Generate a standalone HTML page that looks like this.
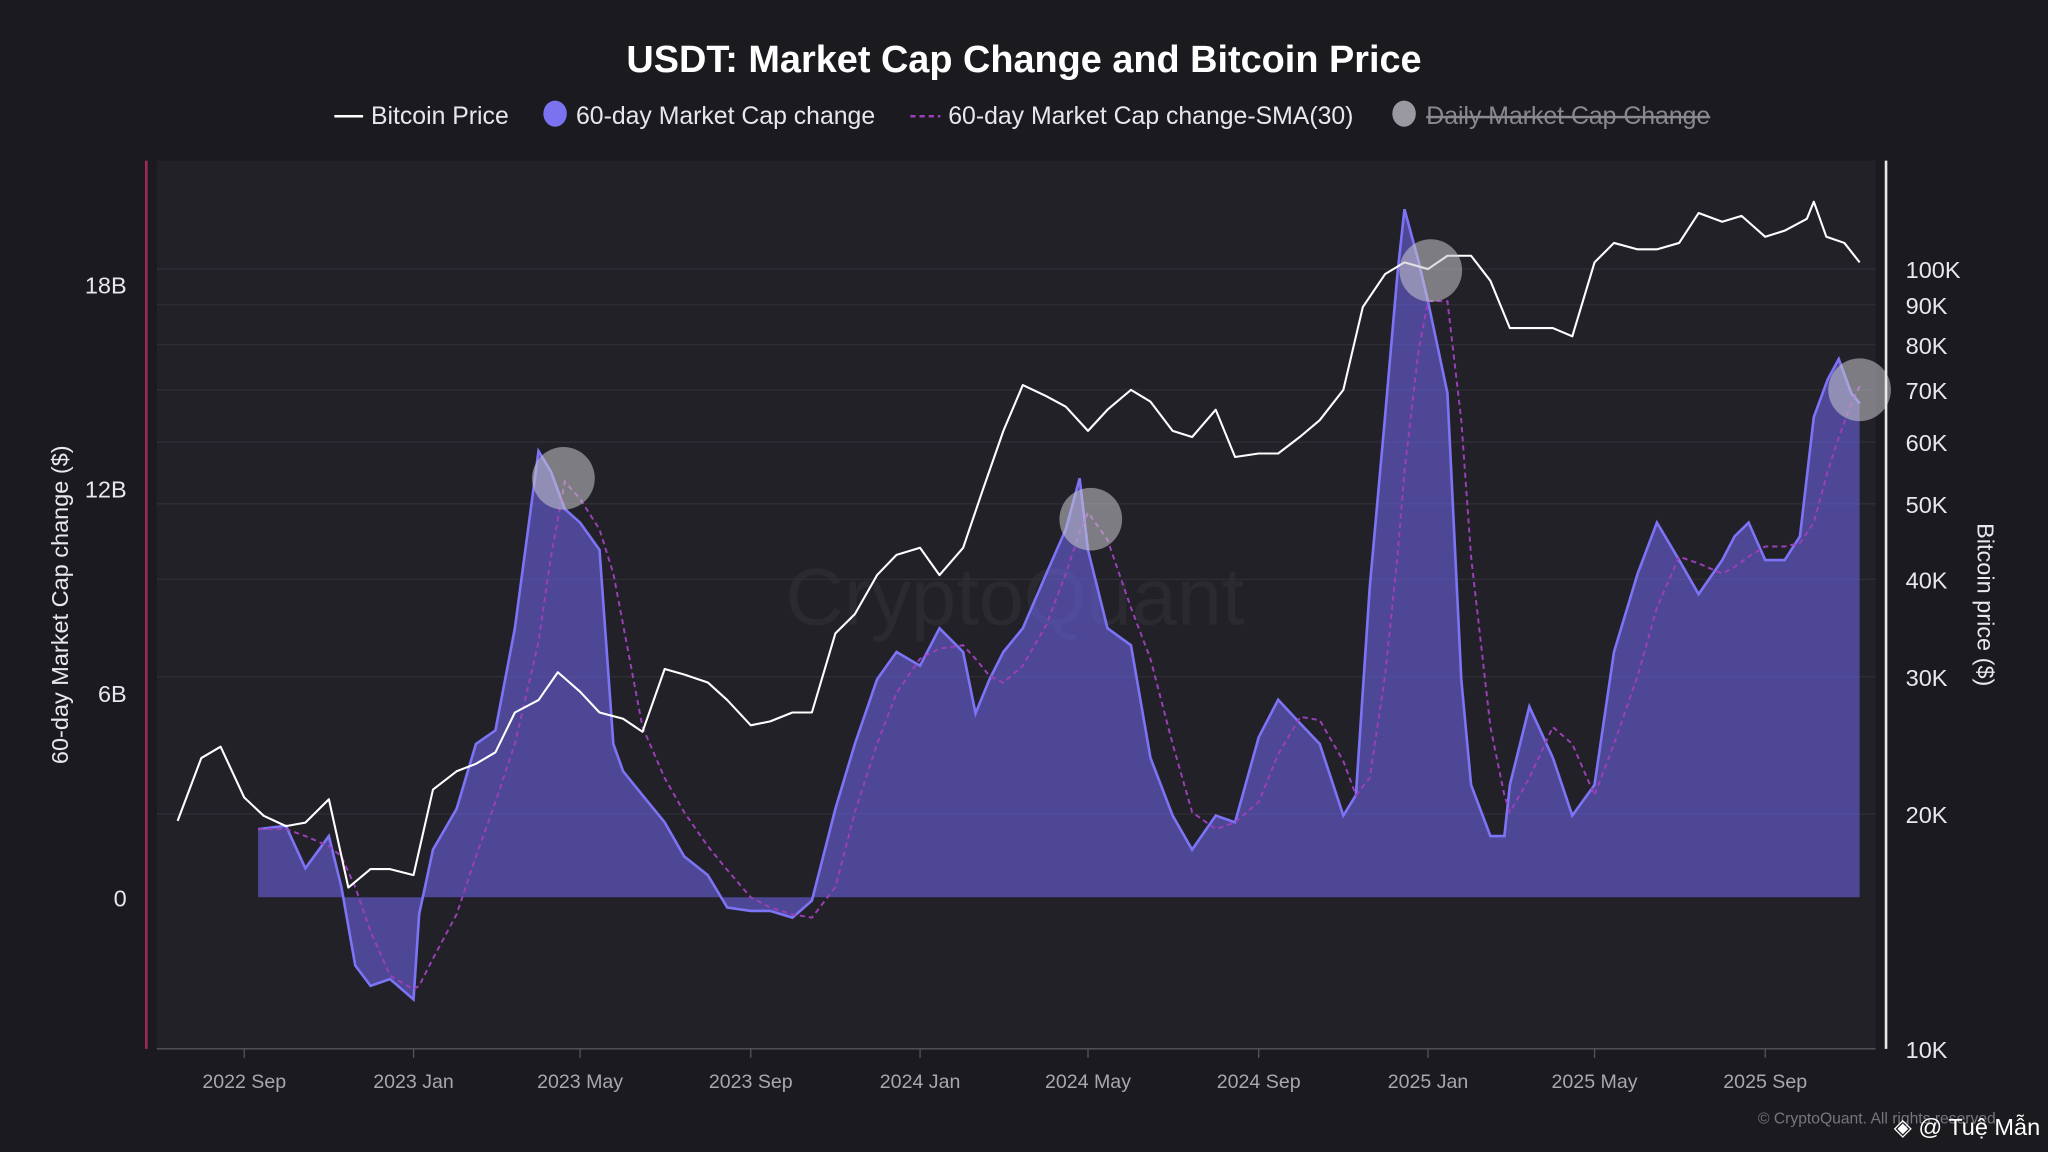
<!DOCTYPE html>
<html><head><meta charset="utf-8">
<style>
html,body{margin:0;padding:0;background:#1b1a1f;}
svg{display:block;font-family:"Liberation Sans",sans-serif;}
</style></head>
<body>
<svg id="chart" width="2048" height="1152" viewBox="0 0 1568 882" xmlns="http://www.w3.org/2000/svg">
<rect x="0" y="0" width="1568" height="882" fill="#1b1a1f"/>
<text x="784" y="55" text-anchor="middle" fill="#ffffff" font-size="29" font-weight="bold">USDT: Market Cap Change and Bitcoin Price</text>
<g font-size="19" fill="#e8e8ec">
 <g><line x1="256" y1="89" x2="278" y2="89" stroke="#fff" stroke-width="2"/><text x="284" y="95">Bitcoin Price</text></g>
 <g><ellipse cx="425" cy="87" rx="9" ry="10" fill="#7b72f0"/><text x="441" y="95">60-day Market Cap change</text></g>
 <g><line x1="697" y1="89" x2="720" y2="89" stroke="#9b3fb8" stroke-width="2" stroke-dasharray="4,3"/><text x="726" y="95">60-day Market Cap change-SMA(30)</text></g>
 <g><ellipse cx="1075" cy="87" rx="9" ry="10" fill="#9a99a2"/><text x="1092" y="95" fill="#8a8990" text-decoration="line-through">Daily Market Cap Change</text></g>
</g>
<rect x="120" y="123" width="1316" height="680" fill="#222127"/>
<text x="777" y="478" text-anchor="middle" fill="#2b2a31" font-size="62">CryptoQuant</text>
<g id="grid"></g>
<g id="series"></g>
<line x1="112" y1="123" x2="112" y2="803" stroke="#9c2a55" stroke-width="2"/>
<line x1="1444" y1="123" x2="1444" y2="803" stroke="#e8e8e8" stroke-width="2"/>
<line x1="120" y1="803" x2="1436" y2="803" stroke="#55545c" stroke-width="1"/>
<g id="axes"></g>
<text transform="translate(52,463) rotate(-90)" text-anchor="middle" fill="#e8e8ec" font-size="18">60-day Market Cap change ($)</text>
<text transform="translate(1514,463) rotate(90)" text-anchor="middle" fill="#e8e8ec" font-size="18">Bitcoin price ($)</text>
<text x="1528" y="860" text-anchor="end" fill="#77767d" font-size="12">© CryptoQuant. All rights reserved</text>
<text x="1562" y="869" text-anchor="end" fill="#ffffff" font-size="18">◈ @ Tuệ Mẫn</text>
</svg>
<script>
const btcDates=["2022-07-15","2022-08-01","2022-08-15","2022-09-01","2022-09-15","2022-10-01","2022-10-15","2022-11-01","2022-11-15","2022-12-01","2022-12-15","2023-01-01","2023-01-15","2023-02-01","2023-02-15","2023-03-01","2023-03-15","2023-04-01","2023-04-15","2023-05-01","2023-05-15","2023-06-01","2023-06-15","2023-07-01","2023-07-15","2023-08-01","2023-08-15","2023-09-01","2023-09-15","2023-10-01","2023-10-15","2023-11-01","2023-11-15","2023-12-01","2023-12-15","2024-01-01","2024-01-15","2024-02-01","2024-02-15","2024-03-01","2024-03-15","2024-04-01","2024-04-15","2024-05-01","2024-05-15","2024-06-01","2024-06-15","2024-07-01","2024-07-15","2024-08-01","2024-08-15","2024-09-01","2024-09-15","2024-10-01","2024-10-15","2024-11-01","2024-11-15","2024-12-01","2024-12-15","2025-01-01","2025-01-15","2025-02-01","2025-02-15","2025-03-01","2025-03-15","2025-04-01","2025-04-15","2025-05-01","2025-05-15","2025-06-01","2025-06-15","2025-07-01","2025-07-15","2025-08-01","2025-08-15","2025-09-01","2025-09-15","2025-10-01","2025-10-06","2025-10-15","2025-10-28","2025-11-08"];
const btcPrice=[19.6,23.6,24.4,21.0,19.9,19.3,19.5,20.9,16.1,17.0,17.0,16.7,21.5,22.7,23.2,24.0,27.0,28.0,30.4,28.7,27.0,26.5,25.5,30.7,30.2,29.5,28.0,26.0,26.3,27.0,27.0,34.1,36.1,40.5,43.0,43.9,40.5,43.9,52.0,62.0,71.0,68.7,66.6,62.0,66.0,70.0,67.6,62.0,60.9,66.0,57.4,58.0,58.0,61.0,64.0,70.0,89.4,98.5,102,100,104,104,96.6,84.0,84.0,84.0,82.0,102,108,106,106,108,118,115,117,110,112,116,122,110,108,102];
const capDates=["2022-09-11","2022-10-01","2022-10-15","2022-11-01","2022-11-10","2022-11-20","2022-12-01","2022-12-15","2023-01-01","2023-01-05","2023-01-15","2023-02-01","2023-02-15","2023-03-01","2023-03-15","2023-04-01","2023-04-10","2023-04-20","2023-05-01","2023-05-15","2023-05-25","2023-06-01","2023-06-15","2023-07-01","2023-07-15","2023-08-01","2023-08-15","2023-09-01","2023-09-15","2023-10-01","2023-10-15","2023-11-01","2023-11-15","2023-12-01","2023-12-15","2024-01-01","2024-01-15","2024-02-01","2024-02-10","2024-02-20","2024-03-01","2024-03-15","2024-04-01","2024-04-15","2024-04-25","2024-05-01","2024-05-15","2024-06-01","2024-06-15","2024-07-01","2024-07-15","2024-08-01","2024-08-15","2024-09-01","2024-09-15","2024-10-01","2024-10-15","2024-11-01","2024-11-10","2024-11-20","2024-12-01","2024-12-10","2024-12-15","2024-12-25","2025-01-01","2025-01-15","2025-01-25","2025-02-01","2025-02-15","2025-02-25","2025-03-01","2025-03-15","2025-04-01","2025-04-15","2025-05-01","2025-05-15","2025-06-01","2025-06-15","2025-07-01","2025-07-15","2025-08-01","2025-08-10","2025-08-20","2025-09-01","2025-09-15","2025-09-26","2025-10-06","2025-10-16","2025-10-24","2025-11-02","2025-11-08"];
const capChange=[2.0,2.1,0.85,1.8,0.3,-2.0,-2.6,-2.4,-3.0,-0.5,1.4,2.6,4.5,4.9,7.9,13.1,12.5,11.4,11.0,10.2,4.5,3.7,3.0,2.2,1.2,0.65,-0.3,-0.4,-0.4,-0.6,-0.1,2.6,4.5,6.4,7.2,6.8,7.9,7.2,5.4,6.4,7.2,7.9,9.5,10.8,12.3,10.2,7.9,7.4,4.1,2.4,1.4,2.4,2.2,4.7,5.8,5.1,4.5,2.4,3.0,9.1,14.1,18.3,20.2,18.7,17.5,14.8,6.4,3.3,1.8,1.8,3.3,5.6,4.1,2.4,3.3,7.2,9.5,11.0,9.9,8.9,9.9,10.6,11.0,9.9,9.9,10.6,14.1,15.2,15.8,14.8,14.5];
const capSma=[2.0,2.0,1.8,1.5,1.2,0.3,-1.0,-2.3,-2.7,-2.6,-1.8,-0.5,1.2,2.8,4.5,7.5,10.0,12.2,11.7,10.8,9.5,8.0,5.0,3.5,2.5,1.5,0.8,0.0,-0.3,-0.5,-0.6,0.3,2.5,4.5,6.0,7.0,7.3,7.4,7.0,6.5,6.3,6.8,8.0,9.5,10.7,11.3,10.5,8.5,7.0,4.5,2.5,2.0,2.2,2.8,4.2,5.3,5.2,4.0,3.0,3.5,6.5,10.0,12.5,16.0,17.5,17.5,14.0,10.0,5.0,3.0,2.5,3.5,5.0,4.5,3.0,4.5,6.5,8.5,10.0,9.8,9.5,9.7,10.0,10.3,10.3,10.4,11.0,12.5,13.5,14.5,15.0];
const dailyDates=["2023-04-19","2024-05-03","2025-01-03","2025-11-08"];
const dailyValues=[12.3,11.1,18.4,14.9];
const xTickLabels=["2022 Sep","2023 Jan","2023 May","2023 Sep","2024 Jan","2024 May","2024 Sep","2025 Jan","2025 May","2025 Sep"];
const xTickDates=["2022-09-01","2023-01-01","2023-05-01","2023-09-01","2024-01-01","2024-05-01","2024-09-01","2025-01-01","2025-05-01","2025-09-01"];
const leftTicks=[0,6,12,18];
const leftTickLabels=["0","6B","12B","18B"];
const rightTicks=[10,20,30,40,50,60,70,80,90,100];
const rightTickLabels=["10K","20K","30K","40K","50K","60K","70K","80K","90K","100K"];

const NS="http://www.w3.org/2000/svg";
const T0=Date.UTC(2022,8,1);
function xS(d){const p=d.split("-");const t=Date.UTC(+p[0],+p[1]-1,+p[2]);return 187+(t-T0)/86400000*1.0625;}
function yL(v){return 687-v*26.08;}
function yR(k){return 803-Math.log10(k/10)*597;}
function mk(tag,attrs,parent){const e=document.createElementNS(NS,tag);for(const k in attrs)e.setAttribute(k,attrs[k]);parent.appendChild(e);return e;}
const grid=document.getElementById("grid"),series=document.getElementById("series"),axes=document.getElementById("axes");

rightTicks.forEach((k,i)=>{
 if(i>0){const g=mk("line",{x1:120,x2:1436,y1:yR(k),y2:yR(k),stroke:"#2f2e35","stroke-width":1},grid);
 
 }
 const t=mk("text",{x:1459,y:yR(k)+7,fill:"#e8e8ec","font-size":18},axes);t.textContent=rightTickLabels[i];
 
 
});
leftTicks.forEach((v,i)=>{
 const t=mk("text",{x:97,y:yL(v)+7,fill:"#e8e8ec","font-size":18,"text-anchor":"end"},axes);t.textContent=leftTickLabels[i];
 
 
});
xTickDates.forEach((d,i)=>{
 const x=xS(d);
 const tk=mk("line",{x1:x,x2:x,y1:803,y2:810,stroke:"#55545c"},axes);
 
 
 const t=mk("text",{x:x,y:833,fill:"#a8a7ae","font-size":15,"text-anchor":"middle"},axes);t.textContent=xTickLabels[i];
 
 
});
let d="M"+xS(capDates[0])+","+yL(0);
capDates.forEach((c,i)=>{d+=" L"+xS(c).toFixed(1)+","+yL(capChange[i]).toFixed(1);});
d+=" L"+xS(capDates[capDates.length-1])+","+yL(0)+" Z";
const area=mk("path",{d:d,fill:"rgba(104,96,220,0.62)"},series);


let l="";capDates.forEach((c,i)=>{l+=(i?" L":"M")+xS(c).toFixed(1)+","+yL(capChange[i]).toFixed(1);});
const line=mk("path",{d:l,fill:"none",stroke:"#7d74f5","stroke-width":2},series);


let s="";capDates.forEach((c,i)=>{s+=(i?" L":"M")+xS(c).toFixed(1)+","+yL(capSma[i]).toFixed(1);});
const sma=mk("path",{d:s,fill:"none",stroke:"#9b3fb8","stroke-width":1.5,"stroke-dasharray":"4,3"},series);


let b="";btcDates.forEach((c,i)=>{b+=(i?" L":"M")+xS(c).toFixed(1)+","+yR(btcPrice[i]).toFixed(1);});
const btc=mk("path",{d:b,fill:"none",stroke:"#ffffff","stroke-width":1.6,"stroke-linejoin":"round"},series);


dailyDates.forEach((c,i)=>{
 const e=mk("circle",{cx:xS(c),cy:yL(dailyValues[i]),r:24,fill:"rgba(200,200,205,0.55)"},series);
 
 
});
</script>
</body></html>
